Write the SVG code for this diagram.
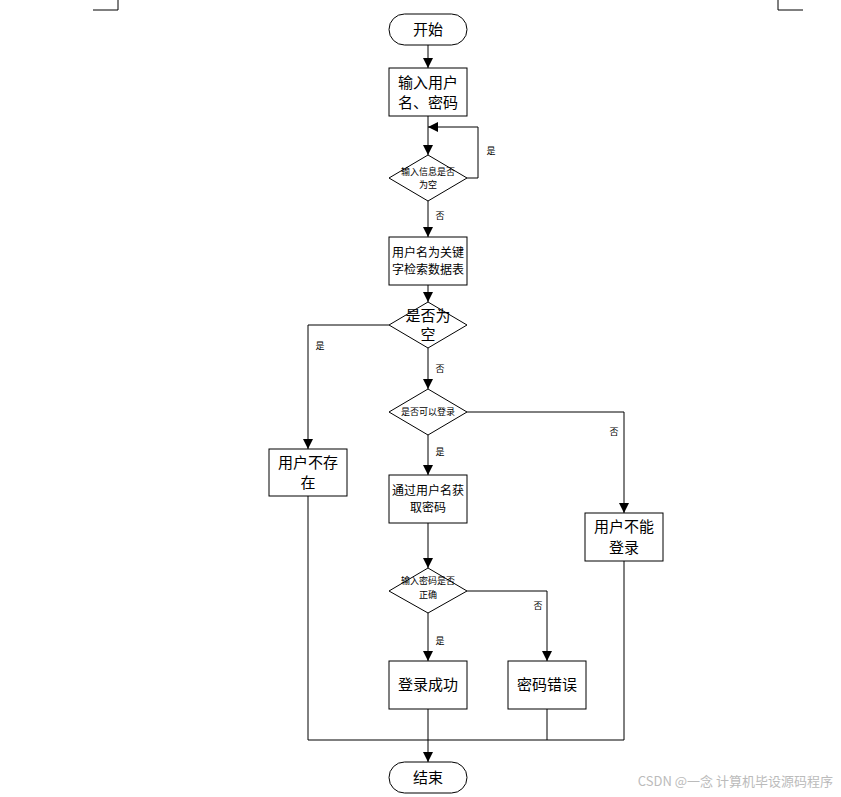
<svg xmlns="http://www.w3.org/2000/svg" width="841" height="797" viewBox="0 0 841 797">
<style>
.s{fill:#fff;stroke:#000;stroke-width:1}
.l{fill:none;stroke:#000;stroke-width:1}
text{font-family:"Noto Sans CJK SC","Liberation Sans",sans-serif;text-anchor:middle;fill:#000}
.b{font-size:15px}.m{font-size:12px}.t{font-size:9px}
</style>
<defs><marker id="a" viewBox="0 0 10 10" refX="10" refY="5" markerWidth="10" markerHeight="10" markerUnits="userSpaceOnUse" orient="auto"><path d="M0,0L10,5L0,10z"/></marker></defs>
<rect width="841" height="797" fill="#fff"/>
<path class="l" d="M93,10H118V0M803,10H778V0" stroke="#ccc"/>
<g id="connectors">
<path class="l" d="M428,45V68" marker-end="url(#a)"/>
<path class="l" d="M428,116V155" marker-end="url(#a)"/>
<path class="l" d="M467,178H478V127H428" marker-end="url(#a)"/>
<path class="l" d="M428,201V237" marker-end="url(#a)"/>
<path class="l" d="M428,285V302" marker-end="url(#a)"/>
<path class="l" d="M389,325H308V449" marker-end="url(#a)"/>
<path class="l" d="M428,348V389" marker-end="url(#a)"/>
<path class="l" d="M467,412H624V513" marker-end="url(#a)"/>
<path class="l" d="M428,435V475" marker-end="url(#a)"/>
<path class="l" d="M428,523V568" marker-end="url(#a)"/>
<path class="l" d="M467,591H547V661" marker-end="url(#a)"/>
<path class="l" d="M428,613V661" marker-end="url(#a)"/>
<path class="l" d="M428,709V762" marker-end="url(#a)"/>
<path class="l" d="M308,496V740H624V561M547,709V740"/>
<text class="t" x="491" y="154">是</text>
<text class="t" x="440" y="219">否</text>
<text class="t" x="320" y="349">是</text>
<text class="t" x="440" y="372">否</text>
<text class="t" x="614" y="435">否</text>
<text class="t" x="440" y="455">是</text>
<text class="t" x="538" y="609">否</text>
<text class="t" x="440" y="644">是</text>
</g>
<g id="start"><rect class="s" x="389" y="14" width="78" height="31" rx="15.5"/><text class="b" x="428" y="35">开始</text></g>
<g id="input"><rect class="s" x="389" y="68" width="78" height="48"/><text class="b" x="428" y="88">输入用户</text><text class="b" x="428" y="108">名、密码</text></g>
<g id="d1"><path class="s" d="M428,155L467,178L428,201L389,178z"/><text class="t" x="428" y="175">输入信息是否</text><text class="t" x="428" y="188">为空</text></g>
<g id="search"><rect class="s" x="389" y="237" width="78" height="48"/><text class="m" x="428" y="257">用户名为关键</text><text class="m" x="428" y="274">字检索数据表</text></g>
<g id="d2"><path class="s" d="M428,302L467,325L428,348L389,325z"/><text class="b" x="428" y="321">是否为</text><text class="b" x="428" y="340">空</text></g>
<g id="noUser"><rect class="s" x="269" y="449" width="78" height="47"/><text class="b" x="308" y="468">用户不存</text><text class="b" x="308" y="488">在</text></g>
<g id="d3"><path class="s" d="M428,389L467,412L428,435L389,412z"/><text class="t" x="428" y="415">是否可以登录</text></g>
<g id="cannot"><rect class="s" x="585" y="513" width="78" height="48"/><text class="b" x="624" y="532">用户不能</text><text class="b" x="624" y="553">登录</text></g>
<g id="getPwd"><rect class="s" x="389" y="475" width="78" height="48"/><text class="m" x="428" y="495">通过用户名获</text><text class="m" x="428" y="512">取密码</text></g>
<g id="d4"><path class="s" d="M428,568L467,591L428,613L389,591z"/><text class="t" x="428" y="584">输入密码是否</text><text class="t" x="428" y="598">正确</text></g>
<g id="ok"><rect class="s" x="389" y="661" width="78" height="48"/><text class="b" x="428" y="690">登录成功</text></g>
<g id="err"><rect class="s" x="508" y="661" width="78" height="48"/><text class="b" x="547" y="690">密码错误</text></g>
<g id="end"><rect class="s" x="389" y="762" width="78" height="31" rx="15.5"/><text class="b" x="428" y="783">结束</text></g>
<text x="833" y="786" style="font-size:13px;text-anchor:end;fill:#bbb">CSDN @一念 计算机毕设源码程序</text>
</svg>
